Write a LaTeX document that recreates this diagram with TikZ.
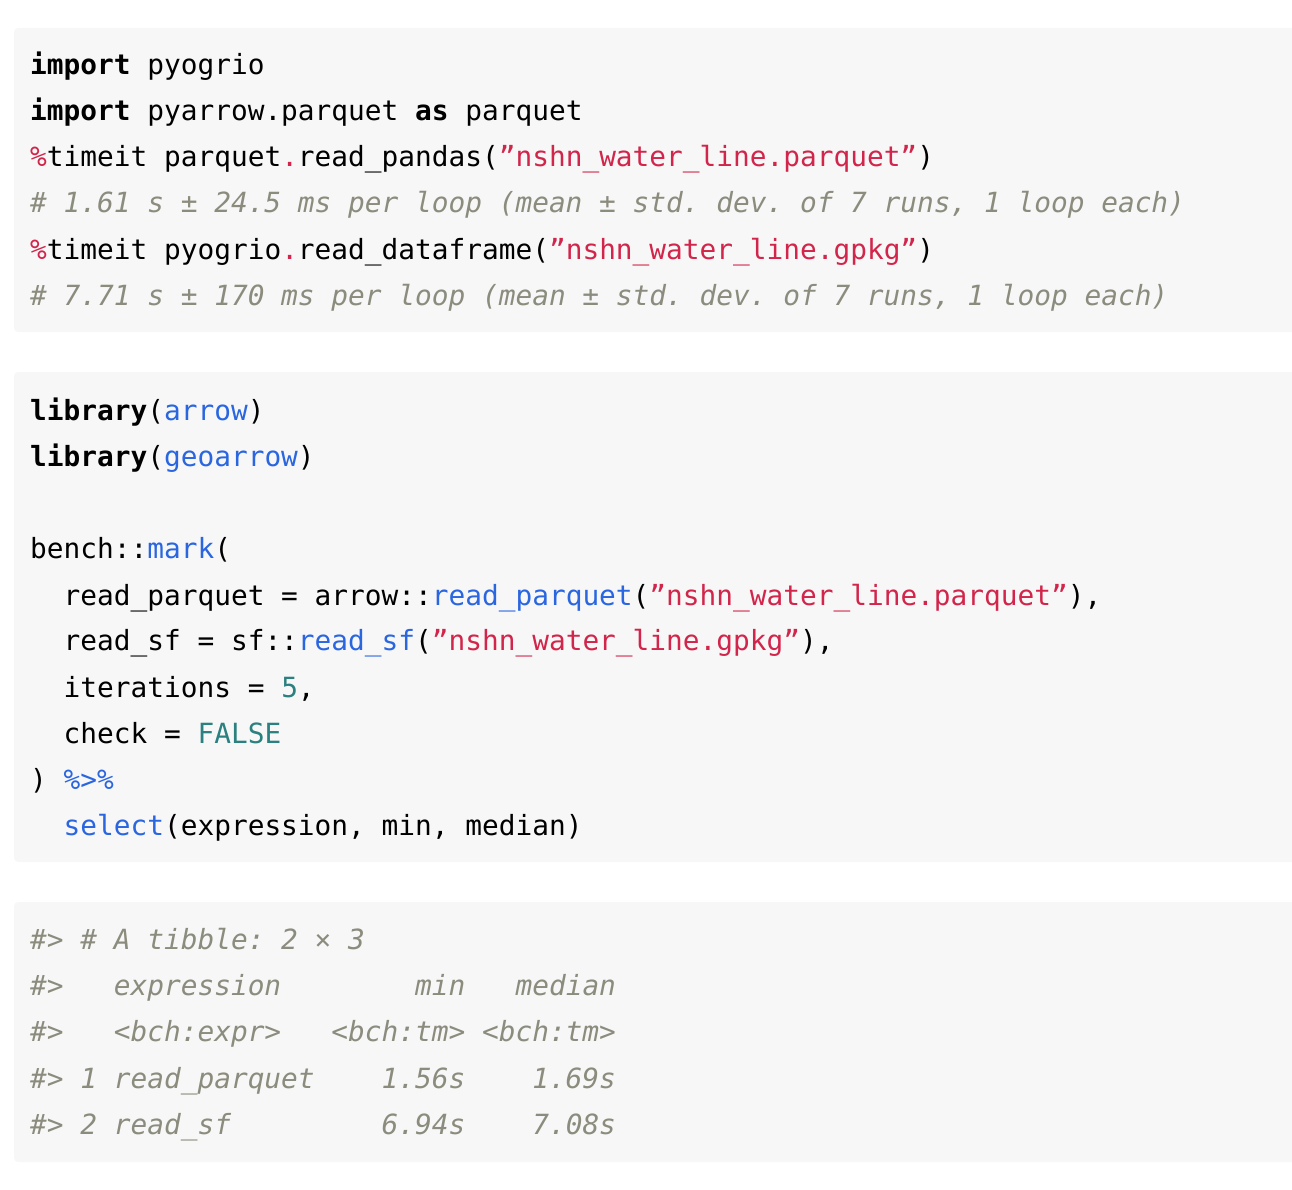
\documentclass[tikz,border=0pt]{standalone}
\usepackage{fontspec}
\setmainfont{DejaVu Sans Mono}
\definecolor{bg}{HTML}{F7F7F7}
\definecolor{rd}{HTML}{D2254B}
\definecolor{bl}{HTML}{2A66E0}
\definecolor{tl}{HTML}{2B8080}
\definecolor{cm}{HTML}{8C8C7E}
\newcommand{\kw}[1]{\textbf{#1}}
\newcommand{\st}[1]{\textcolor{rd}{#1}}
\newcommand{\fn}[1]{\textcolor{bl}{#1}}
\newcommand{\nm}[1]{\textcolor{tl}{#1}}
\newcommand{\cmt}[1]{\textcolor{cm}{\itshape #1}}
\newcommand{\q}{\symbol{34}}
\begin{document}
\begin{tikzpicture}[x=1pt,y=-1pt,
  codebox/.style={fill=bg,rounded corners=4pt,draw=none},
  ln/.style={anchor=base west,inner sep=0pt,font=\fontsize{27.8}{30}\selectfont}]
\useasboundingbox (0,0) rectangle (1292,1190);
\fill[codebox] (14,28) rectangle (1300,332);
\fill[codebox] (14,372) rectangle (1300,862);
\fill[codebox] (14,902) rectangle (1300,1162);
\node[ln] (a1) at (30,75) {\kw{import} pyogrio};
\node[ln] (a2) at (30,121) {\kw{import} pyarrow.parquet \kw{as} parquet};
\node[ln] (a3) at (30,167) {\st{\%}timeit parquet\st{.}read\_pandas(\st{\q nshn\_water\_line.parquet\q})};
\node[ln] (a4) at (30,213) {\cmt{\#~1.61~s~±~24.5~ms~per~loop~(mean~±~std.~dev.~of~7~runs,~1~loop~each)}};
\node[ln] (a5) at (30,259) {\st{\%}timeit pyogrio\st{.}read\_dataframe(\st{\q nshn\_water\_line.gpkg\q})};
\node[ln] (a6) at (30,305) {\cmt{\#~7.71~s~±~170~ms~per~loop~(mean~±~std.~dev.~of~7~runs,~1~loop~each)}};
\node[ln] (b1) at (30,420) {\kw{library}(\fn{arrow})};
\node[ln] (b2) at (30,466) {\kw{library}(\fn{geoarrow})};
\node[ln] (b3) at (30,558) {bench::\fn{mark}(};
\node[ln] (b4) at (30,605) {~~read\_parquet = arrow::\fn{read\_parquet}(\st{\q nshn\_water\_line.parquet\q}),};
\node[ln] (b5) at (30,650) {~~read\_sf = sf::\fn{read\_sf}(\st{\q nshn\_water\_line.gpkg\q}),};
\node[ln] (b6) at (30,697) {~~iterations = \nm{5},};
\node[ln] (b7) at (30,743) {~~check = \nm{FALSE}};
\node[ln] (b8) at (30,789) {) \fn{\%>\%}};
\node[ln] (b9) at (30,835) {~~\fn{select}(expression, min, median)};
\node[ln] (c1) at (30,949) {\cmt{\#>~\#~A~tibble:~2~×~3}};
\node[ln] (c2) at (30,995) {\cmt{\#>~~~expression~~~~~~~~min~~~median}};
\node[ln] (c3) at (30,1041) {\cmt{\#>~~~<bch:expr>~~~<bch:tm>~<bch:tm>}};
\node[ln] (c4) at (30,1088) {\cmt{\#>~1~read\_parquet~~~~1.56s~~~~1.69s}};
\node[ln] (c5) at (30,1134) {\cmt{\#>~2~read\_sf~~~~~~~~~6.94s~~~~7.08s}};
\end{tikzpicture}
\end{document}
